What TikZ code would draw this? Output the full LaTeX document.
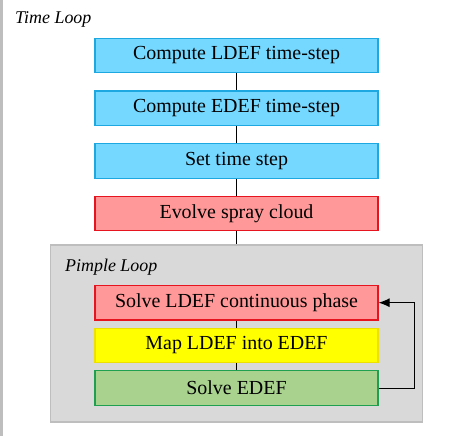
\documentclass[tikz,border=0pt]{standalone}
\usepackage{fontspec}
\setmainfont{Liberation Serif}
\usetikzlibrary{positioning,arrows.meta}

\definecolor{stepfill}{RGB}{117,216,255}
\definecolor{stepline}{RGB}{30,168,226}
\definecolor{redfill}{RGB}{255,153,153}
\definecolor{redline}{RGB}{230,20,30}
\definecolor{mapfill}{RGB}{255,255,0}
\definecolor{mapline}{RGB}{238,224,0}
\definecolor{edeffill}{RGB}{168,210,142}
\definecolor{edefline}{RGB}{30,160,80}
\definecolor{loopfill}{RGB}{217,217,217}
\definecolor{loopline}{RGB}{190,190,190}

\tikzset{
  stepbox/.style={draw=stepline, fill=stepfill, line width=1.2bp,
    minimum width=283bp, minimum height=34.5bp, inner sep=0pt,
    font=\fontsize{20}{24}\selectfont},
  redbox/.style={stepbox, draw=redline, fill=redfill},
  mapbox/.style={stepbox, draw=mapline, fill=mapfill},
  edefbox/.style={stepbox, draw=edefline, fill=edeffill},
  looplabel/.style={anchor=west, inner sep=0pt,
    font=\fontsize{18}{22}\selectfont\itshape},
  link/.style={line width=1bp}
}

\begin{document}
\begin{tikzpicture}[x=1bp, y=-1bp, node distance=17bp]
  \useasboundingbox (0,0) rectangle (474,436);

  % left edge of the outer frame
  \draw[loopline, line width=2.5bp] (1.5,0) -- (1.5,436);
  \node[looplabel] (timeloop) at (15,19) {Time Loop};

  % inner loop panel
  \node[draw=loopline, fill=loopfill, line width=1.2bp, minimum width=371.6bp,
    minimum height=177bp] (pimple) at (236.5,333.5) {};
  \node[looplabel] (pimplelabel) at (65,267) {Pimple Loop};

  % time loop steps
  \node[stepbox] (ldefstep) at (236.5,55.5) {Compute LDEF time-step};
  \node[stepbox, below=of ldefstep] (edefstep) {Compute EDEF time-step};
  \node[stepbox, below=of edefstep] (setstep) {Set time step};
  \node[redbox, below=of setstep] (spray) {Evolve spray cloud};

  % pimple loop steps
  \node[redbox] (solveldef) at (236.5,302.7) {Solve LDEF continuous phase};
  \node[mapbox, below=7bp of solveldef] (mapldef) {Map LDEF into EDEF};
  \node[edefbox, below=7bp of mapldef] (solveedef) {Solve EDEF};

  % connectors
  \draw[link] (ldefstep) -- (edefstep);
  \draw[link] (edefstep) -- (setstep);
  \draw[link] (setstep) -- (spray);
  \draw[link] (spray) -- (pimple.north);
  \draw[link] (solveldef) -- (mapldef);
  \draw[link] (mapldef) -- (solveedef);
  \draw[link, -{Latex[length=11bp,width=9bp]}]
    (solveedef.east) -- ++(36,0) |- (solveldef.east);
\end{tikzpicture}
\end{document}
